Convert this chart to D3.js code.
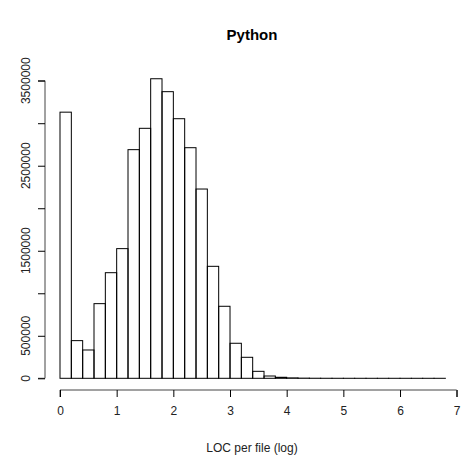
<!DOCTYPE html><html><head><script src="https://cdn.jsdelivr.net/npm/d3@7"></script>
<style>body{margin:0;background:#fff}text{font-family:"Liberation Sans",Arial,sans-serif}</style></head><body><svg width="474" height="474"></svg>
<script>
const binStarts=[0,0.2,0.4,0.6,0.8,1.0,1.2,1.4,1.6,1.8,2.0,2.2,2.4,2.6,2.8,3.0,3.2,3.4,3.6,3.8,4.0,4.2,4.4,4.6,4.8,5.0,5.2,5.4,5.6,5.8,6.0,6.2,6.4,6.6];
const counts=[3130000,443000,333000,878000,1242000,1525000,2689000,2940000,3523000,3371000,3053000,2712000,2226000,1317000,847000,412000,247000,82000,27000,12000,5000,2000,800,400,200,150,100,80,60,50,40,30,20,10];
const binWidth=0.2;
const xTicks=[0,1,2,3,4,5,6,7];
const yTicks=[0,500000,1000000,1500000,2000000,2500000,3000000,3500000];
const yLabels=[0,500000,1500000,2500000,3500000];
const svg=d3.select("svg");
const x=d3.scaleLinear().domain([0,7]).range([60,456.7]);
const y=d3.scaleLinear().domain([0,3500000]).range([378.3,80.7]);
svg.selectAll("rect").data(counts).join("rect")
 .attr("x",(d,i)=>x(binStarts[i])).attr("width",(d,i)=>x(binStarts[i]+binWidth)-x(binStarts[i]))
 .attr("y",d=>y(d)).attr("height",d=>y(0)-y(d)).attr("fill","none").attr("stroke","#000").attr("stroke-width",1);
const xa=svg.append("g").attr("transform","translate(0,390)").call(d3.axisBottom(x).tickValues(xTicks).tickSize(7).tickPadding(9).tickFormat(d3.format("d")));
xa.select(".domain").attr("d",`M${x(0)},7V0H${x(7)}V7`).attr("stroke","#444");
xa.selectAll("text").attr("font-size",12).attr("fill","#222");
const ya=svg.append("g").attr("transform","translate(45,0)").call(d3.axisLeft(y).tickValues(yTicks).tickSize(7).tickFormat(""));
ya.select(".domain").attr("d",`M-7,${y(0)}H0V${y(3500000)}H-7`).attr("stroke","#444");
svg.selectAll(".ylab").data(yLabels).join("text").attr("class","ylab")
 .attr("transform",d=>`translate(30,${y(d)}) rotate(-90)`).attr("text-anchor","middle").attr("font-size",12).attr("fill","#222").text(d=>d);
svg.append("text").attr("x",252).attr("y",40).attr("text-anchor","middle").attr("font-weight","bold").attr("font-size",15).text("Python");
svg.append("text").attr("x",252).attr("y",452).attr("text-anchor","middle").attr("font-size",12).attr("fill","#222").text("LOC per file (log)");
</script></body></html>
